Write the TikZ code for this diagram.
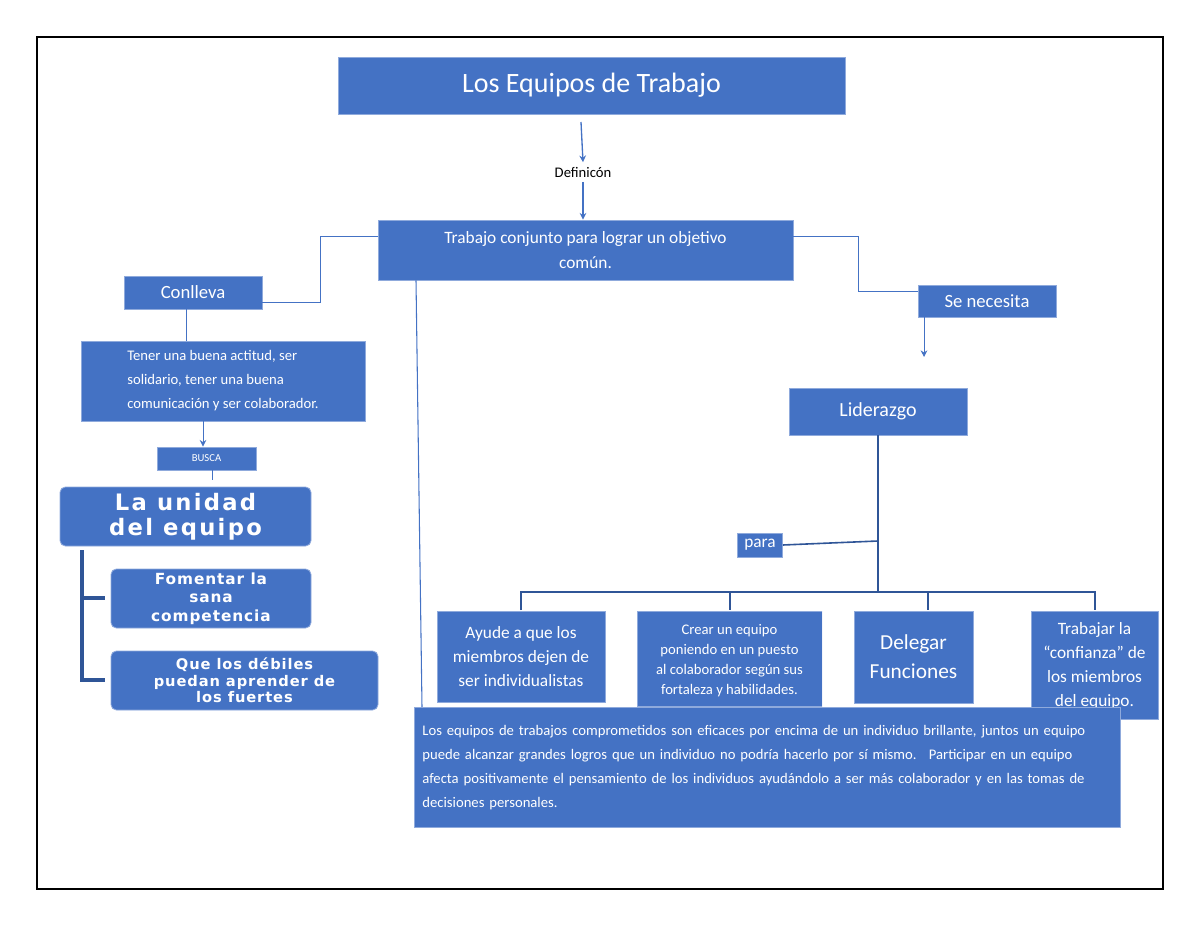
\documentclass[tikz,border=0pt]{standalone}
\usepackage{fontspec}
\usetikzlibrary{arrows.meta}
\setmainfont{Carlito}
\newfontfamily\wide{DejaVu Sans}
\definecolor{bb}{HTML}{4472C4}
\definecolor{dk}{HTML}{2F5597}
\begin{document}
\begin{tikzpicture}[x=0.75pt,y=-0.75pt,
 box/.style={fill=bb,draw=bb!60!white,line width=0.6pt,text=white,align=center,inner sep=2pt},
 ln/.style={draw=bb,line width=1pt},
 arr/.style={ln,-{Stealth[length=5pt,width=5pt]}},
 wbox/.style={box,rounded corners=4pt}]
\useasboundingbox (0,0) rectangle (1200,927);
\draw[line width=1.5pt] (37,37) rectangle (1163,889);
\node[box,minimum width=507*0.75pt,minimum height=57*0.75pt,font=\fontsize{21}{24}\selectfont] (t) at (591.5,85.5) {Los Equipos de Trabajo};
\node (d) at (583,172) {\fontsize{11}{13}\selectfont Definicón};
\coordinate (t1) at (581,122);
\draw[arr] (t1) -- (d.north);
\node[box,minimum width=415*0.75pt,minimum height=60*0.75pt,font=\fontsize{13}{19}\selectfont] (tc) at (585.5,250) {Trabajo conjunto para lograr un objetivo\\común.};
\draw[arr] (d.south) -- (tc.north -| d.south);
\node[box,minimum width=138*0.75pt,minimum height=33*0.75pt,font=\fontsize{14}{16}\selectfont] (cl) at (193,292.5) {Conlleva};
\draw[ln,line width=0.7pt] (378,236) -- (320,236) -- (320,302) -- (cl.east |- 0,302);
\node[box,minimum width=138*0.75pt,minimum height=32*0.75pt,font=\fontsize{14}{16}\selectfont] (sn) at (987,301) {Se necesita};
\draw[ln,line width=0.7pt] (793,236) -- (858,236) -- (858,291) -- (sn.west |- 0,291);
\node[box,minimum width=178*0.75pt,minimum height=47*0.75pt,font=\fontsize{15}{18}\selectfont] (li) at (878,411.5) {Liderazgo};
\draw[arr,line width=0.7pt] (sn.south -| 924,0) -- (924,357);
\node[box,minimum width=45*0.75pt,minimum height=24*0.75pt,font=\fontsize{13}{15}\selectfont] (pa) at (760,545) {para};
\coordinate (j) at (878,592);
\draw[ln,draw=dk,line width=1.2pt] (li.south) -- (j);
\draw[ln,draw=dk,line width=1.2pt] (pa.east) -- (878,541);
\draw[ln,draw=dk,line width=1.2pt] (521,610) -- (521,592) -- (1095,592) -- (1095,610);
\draw[ln,draw=dk,line width=1.2pt] (730,592) -- (730,610);
\draw[ln,draw=dk,line width=1.2pt] (928,592) -- (928,610);
\node[box,minimum width=168*0.75pt,minimum height=91*0.75pt,font=\fontsize{13}{18}\selectfont] (a1) at (521,656.5) {Ayude a que los\\miembros dejen de\\ser individualistas};
\begin{scope}
\clip (637,611) rectangle (822,706);
\node[box,minimum width=185*0.75pt,minimum height=95*0.75pt,font=\fontsize{11}{15}\selectfont,anchor=north] (a2) at (729.5,611) {\rule{0pt}{10pt}Crear un equipo\\poniendo en un puesto\\al colaborador según sus\\fortaleza y habilidades.};
\end{scope}
\node[box,minimum width=119*0.75pt,minimum height=92*0.75pt,font=\fontsize{16}{22}\selectfont] (a3) at (913.5,657) {Delegar\\Funciones};
\node[box,minimum width=127*0.75pt,minimum height=108*0.75pt,font=\fontsize{13}{18}\selectfont,anchor=north] (a4) at (1094.5,611) {Trabajar la\\“confianza” de\\los miembros\\del equipo.};
\node[box,minimum width=706*0.75pt,minimum height=120*0.75pt,font=\fontsize{11}{18}\selectfont,align=left,text width=690*0.75pt,anchor=north west,inner sep=4pt] (big) at (414,707) {Los equipos de trabajos comprometidos son eficaces por encima de un individuo brillante, juntos un equipo puede alcanzar grandes logros que un individuo no podría hacerlo por sí mismo.~ Participar en un equipo afecta positivamente el pensamiento de los individuos ayudándolo a ser más colaborador y en las tomas de decisiones personales.\\[14pt]};
\draw[ln,line width=0.8pt] (tc.south -| 416,0) -- (big.north -| 422,0);
\node[box,minimum width=284*0.75pt,minimum height=80*0.75pt,font=\fontsize{11}{18}\selectfont,align=left] (tb) at (223,381) {Tener una buena actitud, ser\\solidario, tener una buena\\comunicación y ser colaborador.};
\draw[ln,line width=0.7pt] (cl.south -| 186,0) -- (tb.north -| 186,0);
\node[box,minimum width=99*0.75pt,minimum height=23*0.75pt,font=\fontsize{8}{9}\selectfont] (bu) at (206.5,458.5) {BUSCA};
\draw[arr,line width=0.7pt] (tb.south -| 203,0) -- (bu.north -| 203,0);
\node[wbox,minimum width=251*0.75pt,minimum height=59*0.75pt,font=\wide\bfseries\fontsize{17}{19}\selectfont\addfontfeature{LetterSpace=10}] (lu) at (185.5,516.5) {La unidad\\del equipo};
\draw[ln,line width=0.6pt] (bu.south -| 212,0) -- (212,480);
\draw[draw=dk,line width=3pt] (82,550) -- (82,680) -- (105,680);
\draw[draw=dk,line width=3pt] (82,598) -- (105,598);
\node[wbox,minimum width=200*0.75pt,minimum height=59*0.75pt,font=\wide\bfseries\fontsize{11.5}{14}\selectfont\addfontfeature{LetterSpace=6}] (fo) at (211,598.5) {Fomentar la\\sana\\competencia};
\node[wbox,minimum width=267*0.75pt,minimum height=59*0.75pt,font=\wide\bfseries\fontsize{11}{12.5}\selectfont\addfontfeature{LetterSpace=6}] (qu) at (244.5,680.5) {Que los débiles\\puedan aprender de\\los fuertes};
\end{tikzpicture}
\end{document}
